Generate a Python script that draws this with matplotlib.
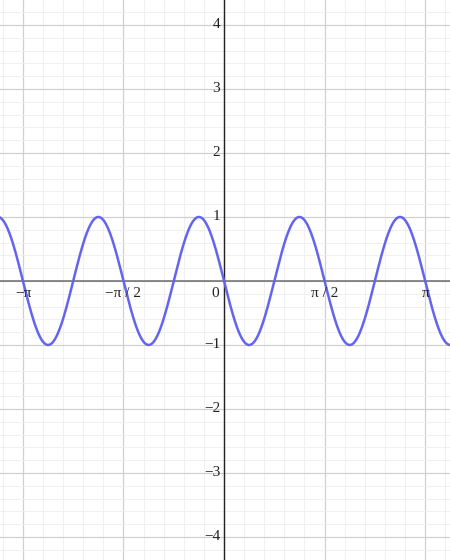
import numpy as np
import matplotlib
matplotlib.use("Agg")
import matplotlib.pyplot as plt
from matplotlib.ticker import MultipleLocator

plt.rcParams["font.family"] = ["Liberation Serif", "DejaVu Serif"]

# curve y = amp * sin(freq * x)
amp = -1.0
freq = 4.0
x_range = (-3.50, 3.53)
y_range = (-4.36, 4.39)
x_ticks = [-np.pi, -np.pi / 2, np.pi / 2, np.pi]
x_labels = ["\u2212\u03c0", "\u2212\u03c0 / 2", "\u03c0 / 2", "\u03c0"]
y_ticks = [-4, -3, -2, -1, 1, 2, 3, 4]

fig = plt.figure(figsize=(4.5, 5.6), dpi=100)
ax = fig.add_axes([0, 0, 1, 1])
ax.set_xlim(*x_range)
ax.set_ylim(*y_range)

ax.xaxis.set_major_locator(MultipleLocator(np.pi / 2))
ax.xaxis.set_minor_locator(MultipleLocator(np.pi / 10))
ax.yaxis.set_major_locator(MultipleLocator(1))
ax.yaxis.set_minor_locator(MultipleLocator(0.2))
ax.grid(which="major", color="#d0d0d0", lw=0.9)
ax.grid(which="minor", color="#eeeeee", lw=0.6)
ax.tick_params(which="both", length=0, labelbottom=False, labelleft=False)
for s in ax.spines.values():
    s.set_visible(False)

ax.axhline(0, color="#777777", lw=1.2)
ax.axvline(0, color="#222222", lw=1.0)

xs = np.linspace(*x_range, 2000)
ax.plot(xs, amp * np.sin(freq * xs), color="#6464f0", lw=1.8)

for xv, lab in zip(x_ticks, x_labels):
    ax.text(xv, -0.1, lab, ha="center", va="top", fontsize=11, color="#222222")
ax.text(-0.08, -0.1, "0", ha="right", va="top", fontsize=11, color="#222222")
for yv in y_ticks:
    lab = str(yv).replace("-", "\u2212")
    ax.text(-0.06, yv, lab, ha="right", va="center", fontsize=11, color="#222222")

fig.savefig("out.png", dpi=100)
